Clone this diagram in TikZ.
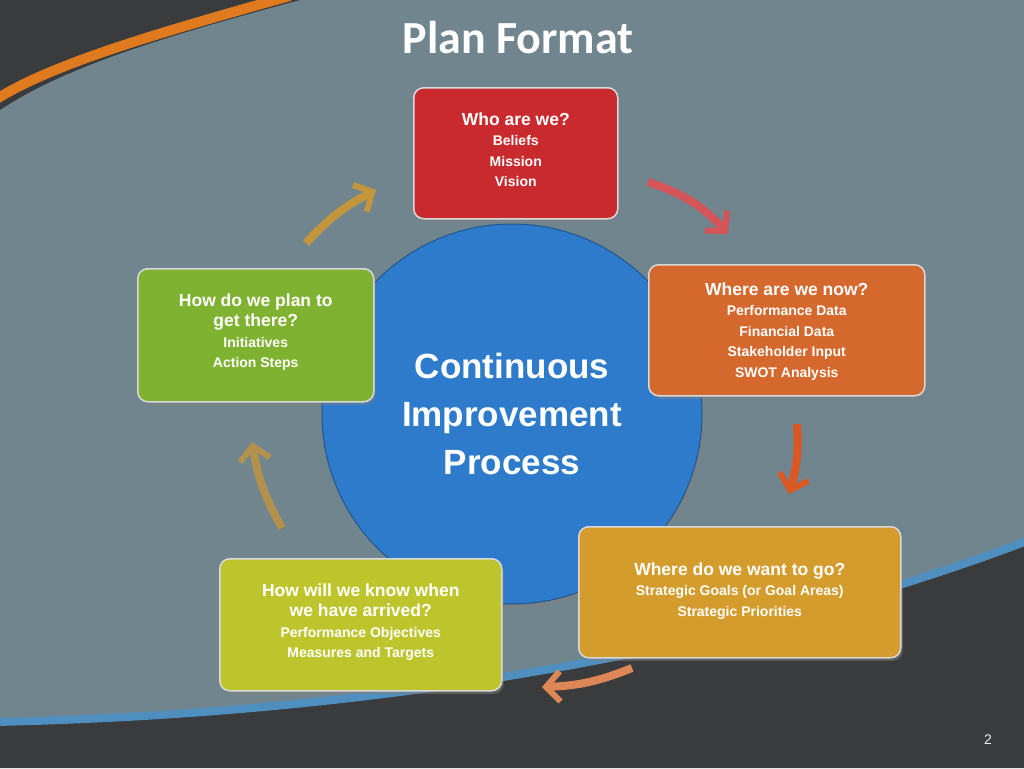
\documentclass[tikz,border=0pt]{standalone}
\usepackage{fontspec}
\setmainfont{Liberation Sans}
\newfontfamily\titlefont{Carlito}
\usetikzlibrary{arrows.meta,shadows}
\definecolor{bgblue}{HTML}{71858F}
\definecolor{darkband}{HTML}{3A3B3D}
\definecolor{bandblue}{HTML}{4F8FC0}
\definecolor{bandorange}{HTML}{E07A1E}
\definecolor{boxred}{HTML}{C92A2E}
\definecolor{boxorange}{HTML}{D5682C}
\definecolor{boxgold}{HTML}{D49C2C}
\definecolor{boxlime}{HTML}{BEC52C}
\definecolor{boxgreen}{HTML}{7FB230}
\definecolor{circblue}{HTML}{2F7BCB}
\tikzset{
  stagebox/.style={draw=white!85!black,line width=1.5pt,rounded corners=10pt,
    drop shadow={opacity=0.5,shadow xshift=2pt,shadow yshift=-3pt}},
  stagetext/.style={text=white,align=center,font=\bfseries\fontsize{14}{20.5}\selectfont,anchor=north},
  cyclearrow/.style={line width=8pt,-{Straight Barb[length=14pt,width=30pt,line width=6pt]}},
}
\newcommand{\head}[1]{{\fontsize{17.5}{20}\selectfont #1}\\}
\begin{document}
\begin{tikzpicture}[x=1pt,y=-1pt]
        % Background
        \useasboundingbox (0,0) rectangle (1024,768);
        \fill[bgblue] (0,0) rectangle (1024,768);
        \fill[darkband] (0,0) -- (300,0) .. controls (150,40) and (60,70) .. (0,110) -- cycle;
        \draw[bandorange,line width=10pt] (290,-4) .. controls (150,35) and (50,65) .. (-5,100);
        \fill[darkband] (0,768) -- (0,725) .. controls (400,715) and (750,650) .. (1024,545) -- (1024,768) -- cycle;
        \draw[bandblue,line width=8pt] (-5,722) .. controls (400,713) and (750,646) .. (1030,540);
        % Title
        \node[text=white,font=\titlefont\bfseries\fontsize{46}{50}\selectfont] (title) at (518,38) {Plan Format};
        % Centre
        \node[circle,fill=circblue,draw=circblue!70!black,line width=1pt,minimum size=380pt,
          text=white,align=center,font=\bfseries\fontsize{35}{48}\selectfont,
          drop shadow={opacity=0.4,shadow xshift=3pt,shadow yshift=-4pt}] (cip) at (512,414)
          {Continuous\\Improvement\\Process};
        % Stages
        \node[stagebox,fill=boxred,minimum width=204pt,minimum height=131pt,anchor=north west] (who) at (413,87) {};
        \node[stagetext] (whot) at (who.north) [yshift=-22pt] {\head{Who are we?}Beliefs\\Mission\\Vision};
        \node[stagebox,fill=boxorange,minimum width=276pt,minimum height=131pt,anchor=north west] (now) at (648,264) {};
        \node[stagetext] (nowt) at (now.north) [yshift=-15pt] {\head{Where are we now?}Performance Data\\Financial Data\\Stakeholder Input\\SWOT Analysis};
        \node[stagebox,fill=boxgold,minimum width=322pt,minimum height=131pt,anchor=north west] (go) at (578,526) {};
        \node[stagetext] (got) at (go.north) [yshift=-33pt] {\head{Where do we want to go?}Strategic Goals (or Goal Areas)\\Strategic Priorities};
        \node[stagebox,fill=boxlime,minimum width=282pt,minimum height=132pt,anchor=north west] (know) at (219,558) {};
        \node[stagetext] (knowt) at (know.north) [yshift=-22pt] {\head{How will we know when}\head{we have arrived?}Performance Objectives\\Measures and Targets};
        \node[stagebox,fill=boxgreen,minimum width=236pt,minimum height=133pt,anchor=north west] (plan) at (137,268) {};
        \node[stagetext] (plant) at (plan.north) [yshift=-22pt] {\head{How do we plan to}\head{get there?}Initiatives\\Action Steps};
        % Arrows
        \coordinate (a1) at (306,243); \coordinate (a2) at (376,190);
        \coordinate (b1) at (648,182); \coordinate (b2) at (728,234);
        \coordinate (c1) at (797,424); \coordinate (c2) at (789,494);
        \coordinate (d1) at (632,668); \coordinate (d2) at (542,687);
        \coordinate (e1) at (282,528); \coordinate (e2) at (252,442);
        \draw[cyclearrow,color=boxgold!80!gray] (a1) to[bend left=10] (a2);
        \draw[cyclearrow,color=boxred!80!white] (b1) to[bend left=15] (b2);
        \draw[cyclearrow,color=boxorange!85!red] (c1) to[bend left=10] (c2);
        \draw[cyclearrow,color=boxorange!80!white] (d1) to[bend left=10] (d2);
        \draw[cyclearrow,color=boxgold!60!gray] (e1) to[bend left=10] (e2);
        % Page number
        \node[text=white!85!gray,font=\fontsize{14}{16}\selectfont] (page) at (988,740) {2};
\end{tikzpicture}
\end{document}
